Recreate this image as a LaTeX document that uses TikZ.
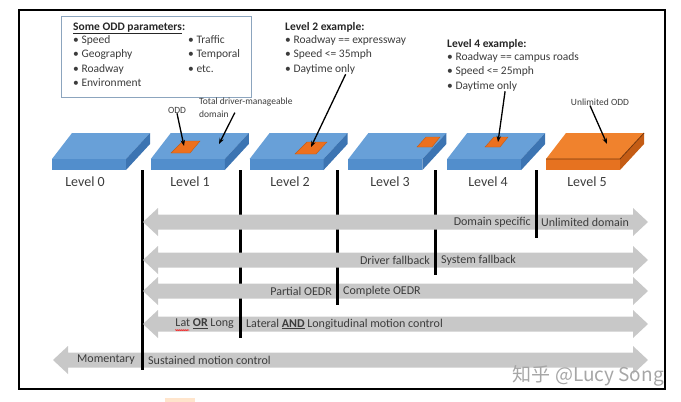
\documentclass[tikz,border=0pt]{standalone}
\usepackage{fontspec}
\setmainfont{Carlito}
\newfontfamily\cjk{Noto Sans CJK SC}
\usetikzlibrary{arrows.meta,decorations.pathmorphing}
\definecolor{topblue}{RGB}{104,160,216}
\definecolor{frontblue}{RGB}{82,142,204}
\definecolor{sideblue}{RGB}{60,116,178}
\definecolor{toporange}{RGB}{240,130,45}
\definecolor{frontorange}{RGB}{230,114,32}
\definecolor{sideorange}{RGB}{196,92,20}
\definecolor{patchorange}{RGB}{237,112,30}
\definecolor{rowgray}{RGB}{200,200,200}
\definecolor{boxline}{RGB}{140,165,190}
\definecolor{txt}{RGB}{60,60,60}

\begin{document}
\begin{tikzpicture}[x=1pt,y=-1pt,
  lvl/.style={font=\fontsize{14}{16}\selectfont, text=txt, inner sep=0pt},
  rowtext/.style={font=\fontsize{12}{14}\selectfont, text=txt, inner sep=0pt},
  bar/.style={line width=3pt, black},
  callout/.style={line width=1.3pt, -{Stealth[length=6pt,width=4.5pt]}},
  note/.style={font=\fontsize{11.5}{14.5}\selectfont, text=txt, align=left, inner sep=0pt, anchor=north west},
  notetitle/.style={font=\bfseries\fontsize{11.5}{14.5}\selectfont, text=black!85, inner sep=0pt, anchor=base west},
  small/.style={font=\fontsize{9.5}{12.5}\selectfont, text=txt, align=left, inner sep=0pt}]

\useasboundingbox (0,0) rectangle (681,402);
\draw[line width=1.2pt] (19,10) rectangle (665,389);

% ODD parameter box
\draw[boxline, line width=0.8pt] (61,16) rectangle (251,97);
\node[notetitle] (oddtitle) at (73,30) {\underline{Some ODD parameters}:};
\node[note] (oddcolA) at (73,35) {• Speed\\• Geography\\• Roadway\\• Environment};
\node[note] (oddcolB) at (188,35) {• Traffic\\• Temporal\\• etc.};

% examples
\node[notetitle] (extwotitle) at (285,30) {Level 2 example:};
\node[note] (extwo) at (285,35) {• Roadway == expressway\\• Speed <= 35mph\\• Daytime only};
\node[notetitle] (exfourtitle) at (447,47) {Level 4 example:};
\node[note] (exfour) at (447,52) {• Roadway == campus roads\\• Speed <= 25mph\\• Daytime only};

% level blocks
\foreach \i/\lx/\c in {0/85/blue,1/190/blue,2/290/blue,3/390/blue,4/488/blue,5/587/orange}{
  \pgfmathsetmacro{\L}{52+98.8*\i}
  \fill[top\c] (\L,159) -- ({\L+20},133) -- ({\L+98},133) -- ({\L+74},159) -- cycle;
  \fill[front\c] (\L,159) rectangle ({\L+74},170);
  \fill[side\c] ({\L+74},159) -- ({\L+98},133) -- ({\L+98},144) -- ({\L+74},170) -- cycle;
  \node[lvl] (lv\i) at (\lx,182) {Level \i};
}
\draw[sideorange!60!black, line width=0.8pt] (546,159) -- (620,159) -- (644,133);

% ODD patches
\filldraw[patchorange, draw=sideorange] (171,153) -- (183,141) -- (200,141) -- (190,153) -- cycle;
\filldraw[patchorange, draw=sideorange] (295,154) -- (307,142) -- (327,142) -- (316,154) -- cycle;
\filldraw[patchorange, draw=sideorange] (417,147) -- (426,137) -- (440,137) -- (432,147) -- cycle;
\filldraw[patchorange, draw=sideorange] (485,147) -- (494,137) -- (508,137) -- (500,147) -- cycle;

% callouts
\node[small] (oddlbl) at (177,110) {ODD};
\node[small, anchor=north west] (tdm) at (199,98) {Total driver-manageable\\domain};
\node[small] (uodd) at (600,102) {Unlimited ODD};
\coordinate (oddone) at (184,146);
\coordinate (tdmone) at (219,144);
\coordinate (oddtwo) at (311,147);
\coordinate (oddfour) at (498,142);
\coordinate (oddfive) at (607,144);
\draw[callout] (oddlbl.south) -- (oddone);
\draw[callout] ([xshift=-11pt,yshift=5pt]tdm.south) -- (tdmone);
\draw[callout] (extwo.south) -- (oddtwo);
\draw[callout] ([xshift=-8pt]exfour.south) -- (oddfour);
\draw[callout] ([xshift=-10pt]uodd.south) -- (oddfive);

% rows, bottom up, each bar over its own row
\foreach \y/\xl/\bx/\bb in {360/53/142/370,324/143/240/338,291/143/337/305,260/143/435/275,222/143/536/238}{
  \fill[rowgray] (\xl,\y) -- ({\xl+15},{\y-14}) -- ({\xl+15},{\y-7.5}) -- (633,{\y-7.5}) -- (633,{\y-14})
    -- (648,\y) -- (633,{\y+14}) -- (633,{\y+7.5}) -- ({\xl+15},{\y+7.5}) -- ({\xl+15},{\y+14}) -- cycle;
  \draw[bar] (\bx,170) -- (\bx,\bb);
}

\node[rowtext, anchor=east] (dspec) at (531,222) {Domain specific};
\node[rowtext, anchor=west] (udom) at (541,222) {Unlimited domain};
\node[rowtext, anchor=east] (dfb) at (430,260) {Driver fallback};
\node[rowtext, anchor=west] (sfb) at (441,260) {System fallback};
\node[rowtext, anchor=east] (poedr) at (332,291) {Partial OEDR};
\node[rowtext, anchor=west] (coedr) at (343,291) {Complete OEDR};
\node[rowtext, anchor=east] (latlong) at (234,324) {Lat \textbf{\underline{OR}} Long};
\node[rowtext, anchor=west] (latandlong) at (246,324) {Lateral \textbf{\underline{AND}} Longitudinal motion control};
\node[rowtext, anchor=east] (moment) at (135,360) {Momentary};
\node[rowtext, anchor=west] (sustain) at (148,360) {Sustained motion control};
\draw[red, line width=0.5pt, decorate, decoration={snake,amplitude=0.6pt,segment length=2pt}]
  ([yshift=-1pt]latlong.south west) -- ++(14,0);

% watermark
\node[font=\cjk\fontsize{19}{20}\selectfont, text=black!35, anchor=base east, inner sep=0pt] (wm) at (664,381) {知乎 @Lucy Song};
\fill[orange!20] (165,398) rectangle (195,402);

\end{tikzpicture}
\end{document}
